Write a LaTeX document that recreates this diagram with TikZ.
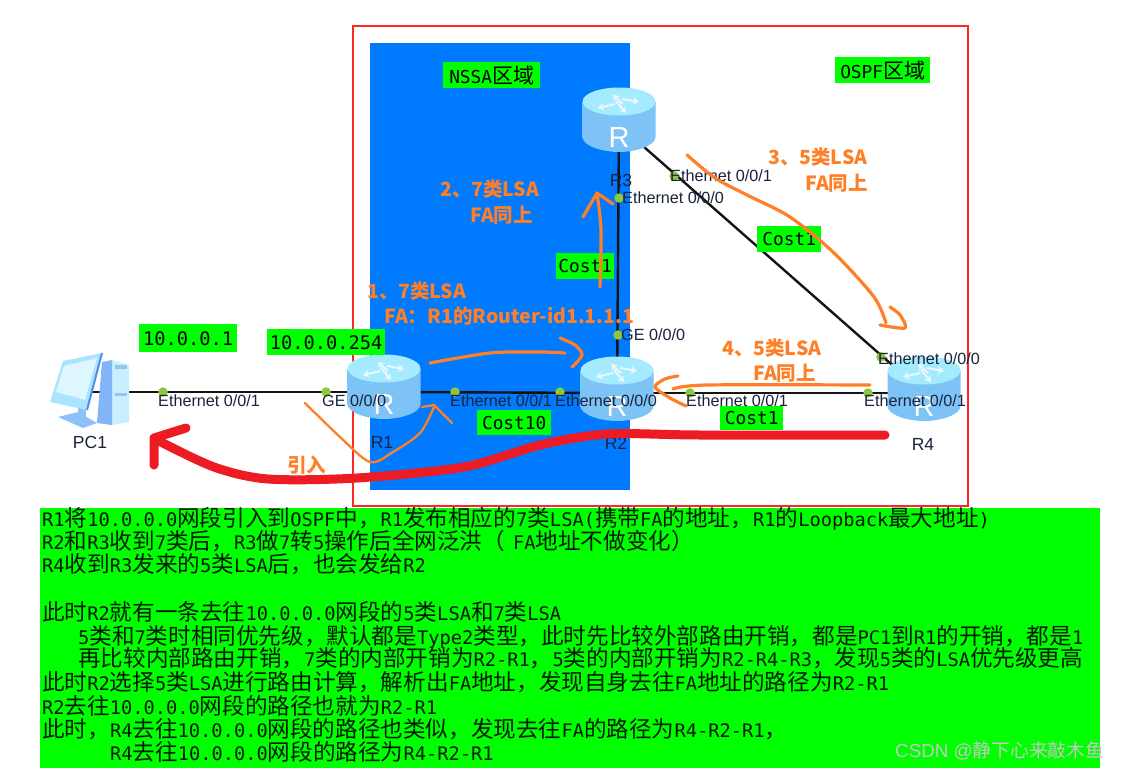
\documentclass[tikz,border=0pt]{standalone}
\usepackage{fontspec}
\setmainfont{Liberation Sans}
\newfontfamily\monofam{DejaVu Sans Mono}
\newfontfamily\cjkfam{Noto Sans CJK SC}
\newcommand\zh[1]{{\fontsize{22.6}{24}\cjkfam #1}}
\newcommand\zhs[1]{{\fontsize{21}{24}\cjkfam #1}}
\usetikzlibrary{arrows.meta}
\definecolor{blockgreen}{RGB}{0,255,0}
\definecolor{areablue}{RGB}{0,122,255}
\definecolor{inkorange}{RGB}{255,127,39}
\definecolor{inkred}{RGB}{237,28,36}
\definecolor{portdot}{RGB}{140,200,60}
\definecolor{labelink}{RGB}{25,35,60}
\definecolor{rtedge}{RGB}{125,195,245}
\definecolor{rtmid}{RGB}{165,228,255}
\definecolor{rttop}{RGB}{165,235,255}
\definecolor{rttopb}{RGB}{130,215,250}
\definecolor{pcframe}{RGB}{170,228,255}
\definecolor{pcscreen}{RGB}{222,246,255}
\definecolor{pcedge}{RGB}{80,140,240}
\definecolor{pcside}{RGB}{130,180,248}
\definecolor{pcfront}{RGB}{200,238,255}
\definecolor{pcslot}{RGB}{140,200,240}
\definecolor{pcbase}{RGB}{140,192,250}
\tikzset{
  anchorpt/.style={inner sep=0pt,minimum size=1pt},
  link/.style={draw=black!92,line width=2.4pt},
  portdotn/.style={circle,fill=portdot,inner sep=0pt,minimum size=9.5pt},
  portlabel/.style={anchor=west,inner sep=0pt,text=labelink,font=\fontsize{16.2}{18}\selectfont},
  devlabel/.style={inner sep=0pt,text=labelink,font=\fontsize{17.5}{19}\selectfont},
  greenbox/.style={anchor=north west,fill=blockgreen,inner sep=0pt,align=center},
  tag/.style={inner sep=0pt,text=black,font=\fontsize{17.8}{20}\monofam},
  bodyline/.style={anchor=base west,inner sep=0pt,text=black!90!green,font=\fontsize{18.7}{24}\monofam},
  orangetxt/.style={anchor=west,inner sep=0pt,text=inkorange,font=\fontsize{19.5}{21}\selectfont\cjkfam\bfseries},
  scribble/.style={draw=inkorange,line width=3.2pt,line cap=round,line join=round},
  scribblethin/.style={draw=inkorange,line width=2.3pt,line cap=round,line join=round},
  redstroke/.style={draw=inkred,line width=9pt,line cap=round,line join=round},
}
\newcommand\routerart[3]{%
\begin{scope}[shift={(#2,#3)}]
  \shade[left color=rtedge,middle color=rtmid,right color=rtedge]
    (-36.5,-19) -- (-36.5,16) .. controls (-36.5,25) and (-16,31) .. (0,31) .. controls (16,31) and (36.5,25) .. (36.5,16) -- (36.5,-19) -- cycle;
  \fill[rttop] (0,-19.5) ellipse [x radius=36.5,y radius=14];
  \foreach \a/\b/\c/\d in {4/-17/-6/-26, 3/-22/20/-19, -4/-17/-21/-13, -3/-20/7/-8}{
    \draw[white!92!cyan,line width=2pt,-{Stealth[length=6pt,width=8pt]}] (\a,\b) -- (\c,\d);
  }
  \node[inner sep=0pt,text=white,font=\fontsize{29}{30}\selectfont] (#1letter) at (0,16.5) {R};
\end{scope}}
\begin{document}
\begin{tikzpicture}[x=1pt,y=-1pt]
\useasboundingbox (0,0) rectangle (1123,770);
\fill[white] (0,0) rectangle (1123,770);
% areas
\node[anchor=north west,draw=red!85!white,line width=1.6pt,minimum width=615pt,minimum height=480pt,inner sep=0pt] (ospfarea) at (352,25) {};
\node[anchor=north west,fill=areablue,minimum width=260pt,minimum height=447pt,inner sep=0pt] (nssaarea) at (370,43) {};
% anchors
\node[anchorpt] (PC1) at (90,392) {};
\node[anchorpt] (R1) at (385,392) {};
\node[anchorpt] (R2) at (617,393) {};
\node[anchorpt] (R3) at (619,125) {};
\node[anchorpt] (R4) at (924,393) {};
% links
\draw[link] (PC1) -- (R1);
\draw[link] (R1) -- (R2);
\draw[link] (R2) -- (R4);
\draw[link] (R2) -- (R3);
\draw[link] (R3) -- (R4);
% PC icon
\fill[pcfront] (112,360) -- (129,365) -- (129,422) -- (112,425) -- cycle;
\fill[pcside] (102,362) -- (112,360) -- (112,425) -- (97,423) -- cycle;
\fill[pcslot] (115,365) rectangle (127,369);
\fill[pcslot] (115,393) rectangle (127,396);
\fill[pcbase] (78,408) rectangle (86,422);
\fill[pcbase] (58,417) -- (78,412) -- (97,423) -- (83,428) -- cycle;
\fill[pcframe] (63,361) -- (102,353) -- (87,410) -- (50,402) -- cycle;
\fill[pcscreen] (64,366) -- (97,358) -- (85,400) -- (56,392) -- cycle;
\draw[pcedge,line width=2pt] (102,353) -- (87,410);
% routers
\routerart{R1}{384}{388}
\routerart{R2}{617}{390}
\routerart{R3}{619}{121}
\routerart{R4}{924}{390}
% device labels
\node[devlabel] (PC1label) at (90,442) {PC1};
\node[devlabel] (R1label) at (382,442) {R1};
\node[devlabel] (R2label) at (616,443) {R2};
\node[devlabel] (R3label) at (621,180) {R3};
\node[devlabel] (R4label) at (923,444) {R4};
% port dots
\node[portdotn] (d1) at (163,392) {};
\node[portdotn] (d2) at (326,392) {};
\node[portdotn] (d3) at (455,392) {};
\node[portdotn] (d4) at (560,392) {};
\node[portdotn] (d5) at (690,393) {};
\node[portdotn] (d6) at (868,393) {};
\node[portdotn] (d7) at (619,198) {};
\node[portdotn] (d8) at (618,335) {};
\node[portdotn] (d9) at (674,176) {};
\node[portdotn] (d10) at (881,357) {};
% port labels
\node[portlabel] (p1) at (158,401) {Ethernet 0/0/1};
\node[portlabel] (p2) at (322,401) {GE 0/0/0};
\node[portlabel] (p3) at (450,401) {Ethernet 0/0/1};
\node[portlabel] (p4) at (555,401) {Ethernet 0/0/0};
\node[portlabel] (p5) at (686,401) {Ethernet 0/0/1};
\node[portlabel] (p6) at (864,401) {Ethernet 0/0/1};
\node[portlabel] (p7) at (878,359) {Ethernet 0/0/0};
\node[portlabel] (p8) at (621,335) {GE 0/0/0};
\node[portlabel] (p9) at (622,198) {Ethernet 0/0/0};
\node[portlabel] (p10) at (670,176) {Ethernet 0/0/1};
% green tags
\node[greenbox,minimum width=98pt,minimum height=28pt] (b1) at (139,324) {};
\node[tag,font=\fontsize{18.7}{20}\monofam] at (b1) {10.0.0.1};
\node[greenbox,minimum width=118pt,minimum height=26pt] (b2) at (267,329) {};
\node[tag,font=\fontsize{18.7}{20}\monofam] at (b2) {10.0.0.254};
\node[greenbox,minimum width=97pt,minimum height=26pt] (b3) at (443,62) {};
\node[tag] at (b3) {NSSA\zhs{区域}};
\node[greenbox,minimum width=95pt,minimum height=26pt] (b4) at (835,57) {};
\node[tag] at (b4) {OSPF\zhs{区域}};
\node[greenbox,minimum width=58pt,minimum height=26pt] (b5) at (556,253) {};
\node[tag] at (b5) {Cost1};
\node[greenbox,minimum width=64pt,minimum height=26pt] (b6) at (757,226) {};
\node[tag] at (b6) {Cost1};
\node[greenbox,minimum width=74pt,minimum height=25pt] (b7) at (477,410) {};
\node[tag] at (b7) {Cost10};
\node[greenbox,minimum width=63pt,minimum height=24pt] (b8) at (720,406) {};
\node[tag] at (b8) {Cost1};
% orange labels
\node[orangetxt] (o1) at (367,291) {1、7类LSA};
\node[orangetxt] (o2) at (384,316) {FA：R1的Router-id1.1.1.1};
\node[orangetxt] (o3) at (440,189) {2、7类LSA};
\node[orangetxt] (o4) at (470,215) {FA同上};
\node[orangetxt] (o5) at (768,157) {3、5类LSA};
\node[orangetxt] (o6) at (805,183) {FA同上};
\node[orangetxt] (o7) at (722,348) {4、5类LSA};
\node[orangetxt] (o8) at (753,373) {FA同上};
\node[orangetxt] (o9) at (287,465) {引入};
% scribbled arrows
\draw[scribblethin] plot[smooth] coordinates {(305,403) (340,437) (370,462) (393,452) (420,433) (434,407)};
\draw[scribblethin] (422,407) -- (434,405) -- (452,423);
\draw[scribble] plot[smooth] coordinates {(430,363) (490,353) (540,352) (565,353)};
\draw[scribble] plot[smooth] coordinates {(560,338) (575,345) (582,355) (572,367)};
\draw[scribble] plot[smooth] coordinates {(600,287) (601,230) (597,193)};
\draw[scribble] (583,217) -- (597,193) -- (613,204);
\draw[scribble] plot[smooth] coordinates {(687,155) (715,178) (747,195) (790,217) (834,253) (874,297) (886,323)};
\draw[scribble] plot[smooth] coordinates {(890,307) (900,315) (905,328) (880,325)};
\draw[scribble] plot[smooth] coordinates {(870,385) (707,385) (673,389)};
\draw[scribble] plot[smooth] coordinates {(678,376) (665,379) (655,387) (670,398) (686,406)};
% red arrow
\draw[redstroke] plot[smooth,tension=0.5] coordinates {(885,435) (700,435) (607,434) (540,445) (464,467) (357,478) (268,479) (214,467) (157,440)};
\draw[redstroke] (186,428) -- (154,438) -- (154,465);
% text block
\node[anchor=north west,fill=blockgreen,minimum width=1060pt,minimum height=260pt,inner sep=0pt] (textblock) at (40,508) {};
\node[bodyline] (l1) at (42,526) {R1\zh{将}10.0.0.0\zh{网段引入到}OSPF\zh{中，}R1\zh{发布相应的}7\zh{类}LSA(\zh{携带}FA\zh{的地址，}R1\zh{的}Loopback\zh{最大地址})};
\node[bodyline] (l2) at (42,549) {R2\zh{和}R3\zh{收到}7\zh{类后，}R3\zh{做}7\zh{转}5\zh{操作后全网泛洪（}\hspace{8pt}FA\zh{地址不做变化）}};
\node[bodyline] (l3) at (42,572) {R4\zh{收到}R3\zh{发来的}5\zh{类}LSA\zh{后，也会发给}R2};
\node[bodyline] (l4) at (42,620) {\zh{此时}R2\zh{就有一条去往}10.0.0.0\zh{网段的}5\zh{类}LSA\zh{和}7\zh{类}LSA};
\node[bodyline] (l5) at (78,644) {5\zh{类和}7\zh{类时相同优先级，默认都是}Type2\zh{类型，此时先比较外部路由开销，都是}PC1\zh{到}R1\zh{的开销，都是}1};
\node[bodyline] (l6) at (78,666) {\zh{再比较内部路由开销，}7\zh{类的内部开销为}R2-R1\zh{，}5\zh{类的内部开销为}R2-R4-R3\zh{，发现}5\zh{类的}LSA\zh{优先级更高}};
\node[bodyline] (l7) at (42,690) {\zh{此时}R2\zh{选择}5\zh{类}LSA\zh{进行路由计算，解析出}FA\zh{地址，发现自身去往}FA\zh{地址的路径为}R2-R1};
\node[bodyline] (l8) at (42,714) {R2\zh{去往}10.0.0.0\zh{网段的路径也就为}R2-R1};
\node[bodyline] (l9) at (42,737) {\zh{此时，}R4\zh{去往}10.0.0.0\zh{网段的路径也类似，发现去往}FA\zh{的路径为}R4-R2-R1\zh{，}};
\node[bodyline] (l10) at (110,760) {R4\zh{去往}10.0.0.0\zh{网段的路径为}R4-R2-R1};
\node[anchor=base west,inner sep=0pt,text=black!22,font=\fontsize{18.8}{20}\selectfont] (mark) at (895,757) {CSDN @{\cjkfam 静下心来敲木鱼}};
\end{tikzpicture}
\end{document}
